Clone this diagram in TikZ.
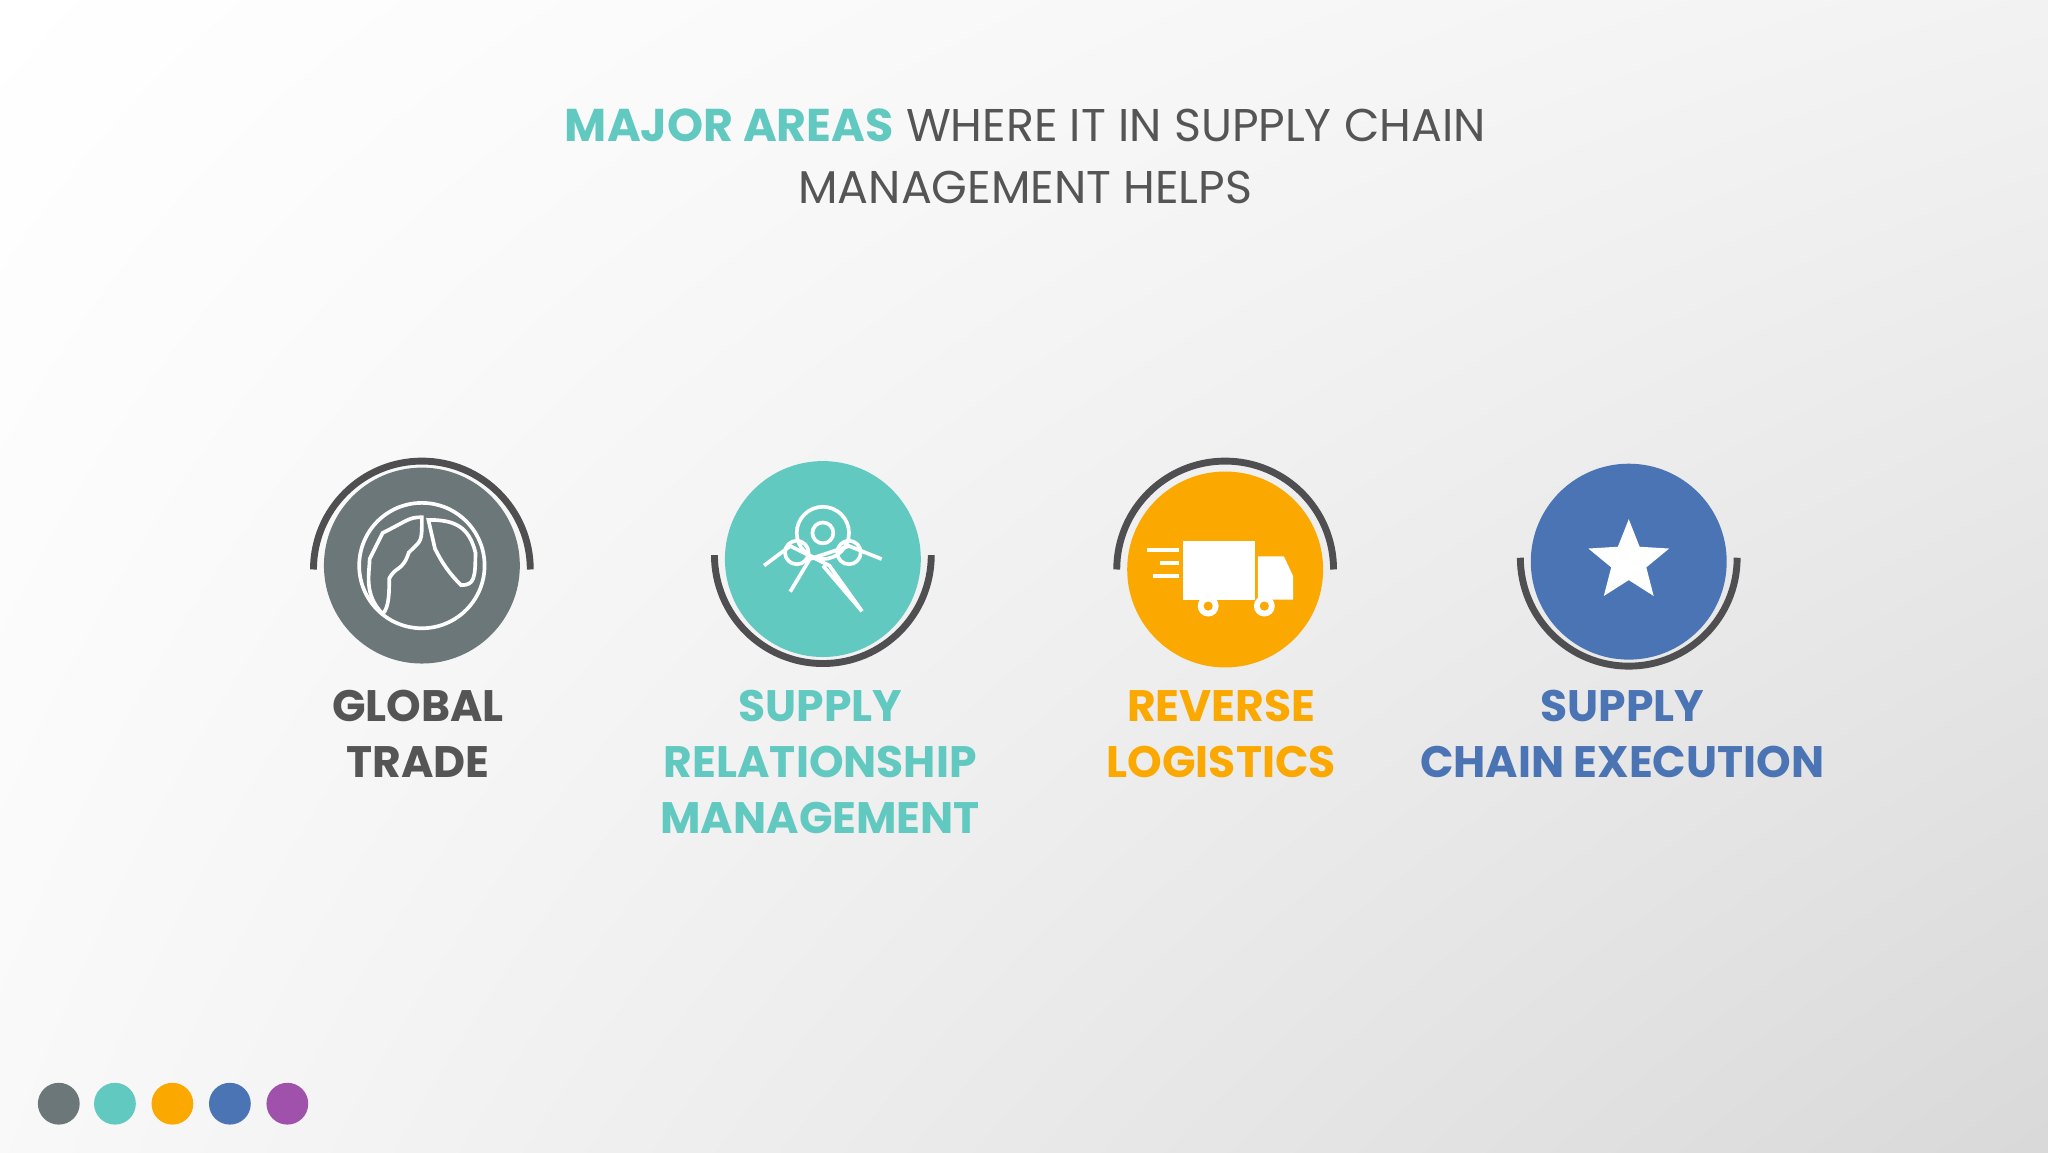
\documentclass[tikz,border=0pt]{standalone}
\usepackage{fontspec}
\setmainfont{Poppins}
\usetikzlibrary{shapes.geometric,shadings}
\definecolor{cgray}{HTML}{6B7778}
\definecolor{cteal}{HTML}{62C9C1}
\definecolor{corange}{HTML}{FBA800}
\definecolor{cblue}{HTML}{4A74B4}
\definecolor{cpurple}{HTML}{A051AC}
\definecolor{ctext}{HTML}{555555}
\definecolor{carc}{HTML}{4F4F51}
\tikzset{
  disc/.style={circle,minimum size=1.5cm,inner sep=0pt},
  arcline/.style={carc,line width=1.5pt},
  lbl/.style={font=\bfseries\fontsize{9.6}{12.2}\selectfont,align=center},
  dot/.style={circle,minimum size=0.32cm,inner sep=0pt},
  ico/.style={white,line width=0.8pt}
}
\begin{document}
\begin{tikzpicture}[y=-1cm]
\useasboundingbox (0,0) rectangle (15.68,8.82);
\shade[upper left=white,upper right=gray!10,lower left=gray!5,lower right=gray!30] (0,0) rectangle (15.68,8.82);
\node[align=center,font=\fontsize{10}{13.5}\selectfont,text=ctext] (title) at (7.85,1.2)
 {\textcolor{cteal}{\bfseries MAJOR AREAS} WHERE IT IN SUPPLY CHAIN\\MANAGEMENT HELPS};
% discs
\node[disc,fill=cgray] (c1) at (3.23,4.33) {};
\node[disc,fill=cteal] (c2) at (6.30,4.28) {};
\node[disc,fill=corange] (c3) at (9.38,4.36) {};
\node[disc,fill=cblue] (c4) at (12.47,4.30) {};
% arcs
\draw[arcline] ([shift={(-0.83,0.03)}]c1.center) arc[start angle=180,end angle=360,radius=0.83];
\draw[arcline] ([shift={(-0.83,-0.03)}]c2.center) arc[start angle=180,end angle=0,radius=0.83];
\draw[arcline] ([shift={(-0.83,0.0)}]c3.center) arc[start angle=180,end angle=360,radius=0.83];
\draw[arcline] ([shift={(-0.83,-0.03)}]c4.center) arc[start angle=180,end angle=0,radius=0.83];
% globe icon
\draw[ico] (c1.center) circle (0.48);
\draw[ico] ([shift={(-0.3,-0.25)}]c1.center) .. controls +(0.2,-0.1) and +(-0.1,0) .. +(0.3,-0.12) .. controls +(0,0.2) and +(0.1,-0.1) .. +(0.2,0.15) .. controls +(-0.05,0.15) and +(0.05,-0.1) .. +(0.05,0.35) .. controls +(0,0.1) and +(0.05,-0.05) .. +(0.0,0.62) .. controls +(-0.15,-0.15) and +(0,0.1) .. +(-0.1,0.2) -- cycle;
\draw[ico] ([shift={(0.05,-0.35)}]c1.center) .. controls +(0.2,0) and +(-0.05,-0.2) .. +(0.36,0.25) .. controls +(0,0.2) and +(0.1,0) .. +(0.25,0.5) .. controls +(-0.1,-0.1) and +(0.05,0.1) .. +(0.05,0.22) -- cycle;
% handshake icon (simplified)
\draw[ico] ([shift={(-0.45,0.05)}]c2.center) -- +(0.2,-0.15) -- +(0.5,0.0) -- +(0.75,0.35) -- +(0.45,0.0);
\draw[ico] ([shift={(0.45,0.0)}]c2.center) -- +(-0.25,-0.1) -- +(-0.55,0.0) -- +(-0.7,0.25);
\draw[ico] ([shift={(0,-0.2)}]c2.center) circle (0.2);
\draw[ico] ([shift={(0,-0.2)}]c2.center) circle (0.08);
\draw[ico] ([shift={(-0.2,-0.05)}]c2.center) circle (0.09);
\draw[ico] ([shift={(0.2,-0.05)}]c2.center) circle (0.09);
% truck icon
\fill[white] ([shift={(-0.32,-0.22)}]c3.center) rectangle +(0.55,0.45);
\fill[white] ([shift={(0.25,-0.1)}]c3.center) -- +(0.2,0) -- +(0.27,0.15) -- +(0.27,0.33) -- +(0,0.33) -- cycle;
\fill[white] ([shift={(-0.13,0.28)}]c3.center) circle (0.08);
\fill[white] ([shift={(0.3,0.28)}]c3.center) circle (0.08);
\fill[corange] ([shift={(-0.13,0.28)}]c3.center) circle (0.035);
\fill[corange] ([shift={(0.3,0.28)}]c3.center) circle (0.035);
\foreach \yy/\ll in {-0.15/0.25,-0.05/0.15,0.05/0.2}
  \draw[white,line width=0.8pt] ([shift={(-0.35,\yy)}]c3.center) -- +(-\ll,0);
% star
\node[star,star points=5,star point ratio=2.3,fill=white,minimum size=0.65cm,inner sep=0pt] (s4) at (c4.center) {};
% labels
\node[lbl,text=ctext] (l1) at (3.2,5.62) {GLOBAL\\TRADE};
\node[lbl,text=cteal] (l2) at (6.28,5.83) {SUPPLY\\RELATIONSHIP\\MANAGEMENT};
\node[lbl,text=corange] (l3) at (9.35,5.62) {REVERSE\\LOGISTICS};
\node[lbl,text=cblue] (l4) at (12.42,5.62) {SUPPLY\\CHAIN EXECUTION};
% dots
\node[dot,fill=cgray] (d1) at (0.45,8.45) {};
\node[dot,fill=cteal] (d2) at (0.88,8.45) {};
\node[dot,fill=corange] (d3) at (1.32,8.45) {};
\node[dot,fill=cblue] (d4) at (1.76,8.45) {};
\node[dot,fill=cpurple] (d5) at (2.20,8.45) {};
\end{tikzpicture}
\end{document}
